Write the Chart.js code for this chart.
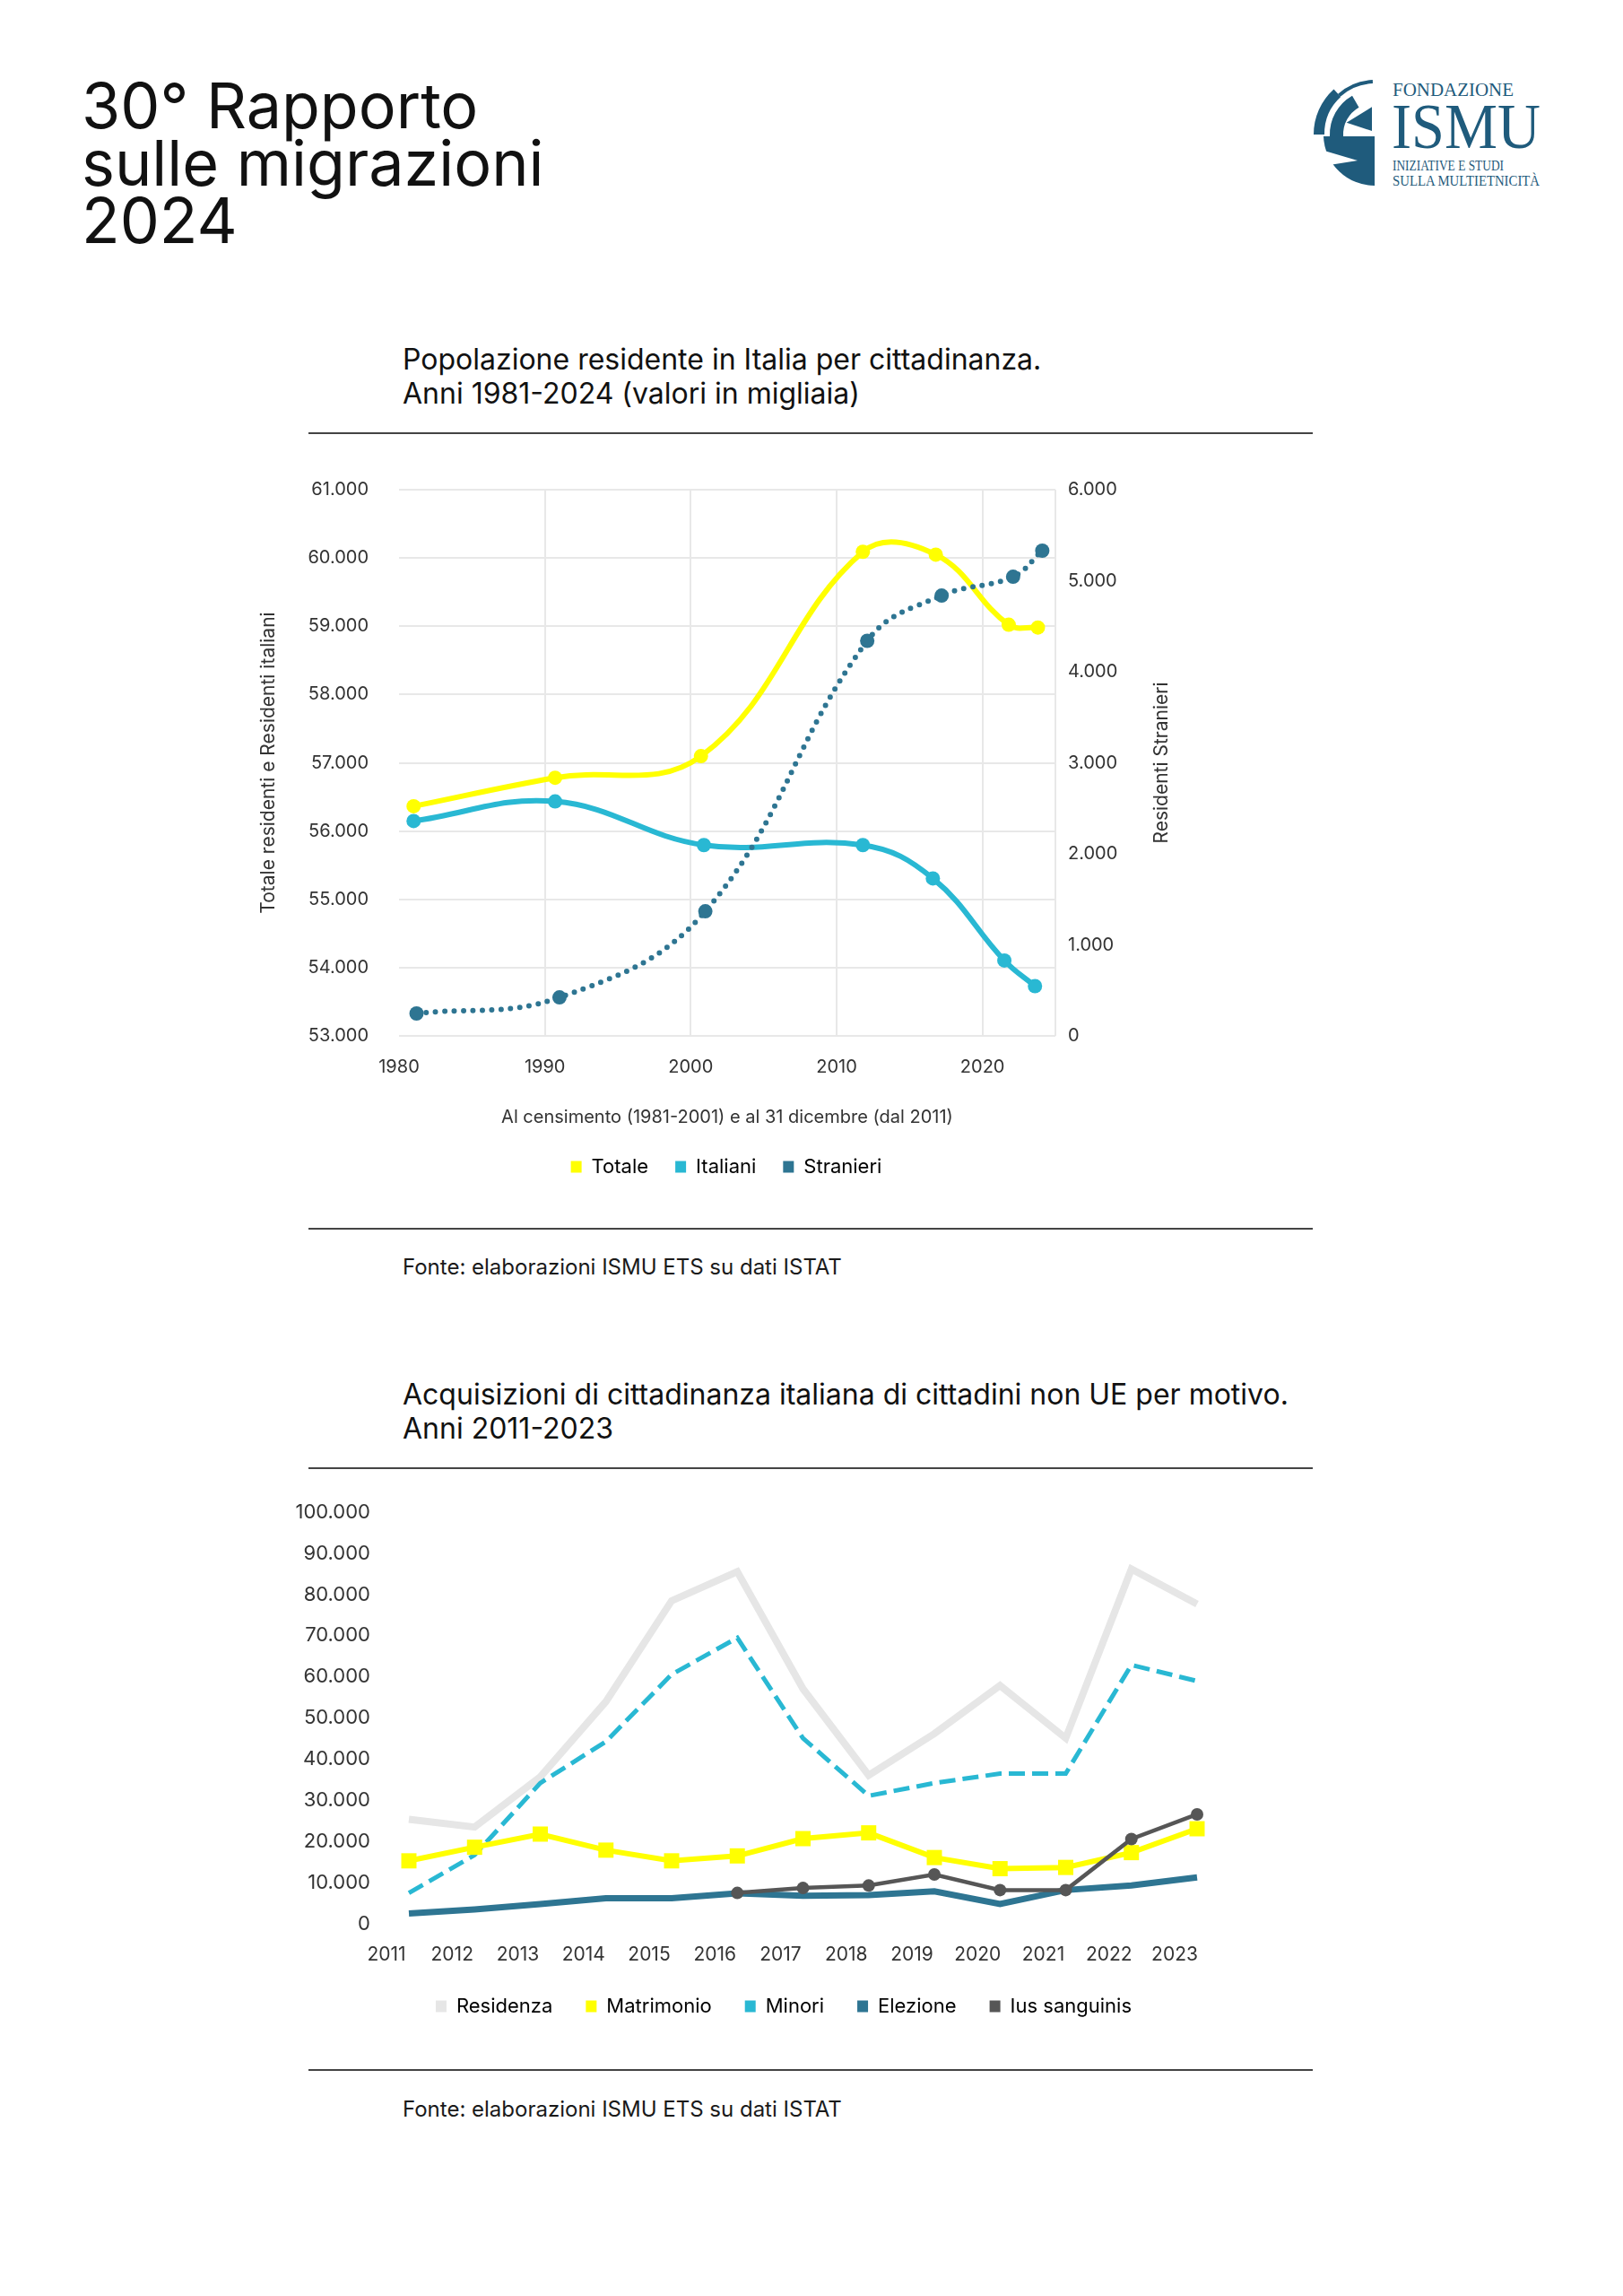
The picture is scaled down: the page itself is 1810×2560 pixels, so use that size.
<!DOCTYPE html>
<html lang="it">
<head>
<meta charset="utf-8">
<title>30° Rapporto sulle migrazioni 2024</title>
<script src="https://cdn.jsdelivr.net/npm/chart.js@4.4.1/dist/chart.umd.min.js"></script>
<style>
  html,body{margin:0;padding:0;background:#fff;}
  body{width:1810px;height:2560px;position:relative;overflow:hidden;font-family:Inter,'Noto Sans',sans-serif;color:#111;}
  .abs{position:absolute;}
  .titolo{left:91px;top:86px;font-size:70px;line-height:64px;font-weight:400;white-space:nowrap;}
  .ctitolo{left:449px;font-size:32px;line-height:38px;white-space:nowrap;}
  .riga{position:absolute;left:344px;width:1120px;height:0;border-top:2px solid #444;}
  .fonte{left:449px;font-size:24px;line-height:24px;color:#1a1a1a;white-space:nowrap;}
  canvas{position:absolute;}
</style>
</head>
<body>

<div class="abs titolo">30° Rapporto<br>sulle migrazioni<br>2024</div>

<svg class="abs" style="left:1440px;top:80px" width="300" height="140" viewBox="0 0 300 140">
  <g fill="#1f5b7c">
    <path d="M25,70 A68,68 0 0 1 47.5,19.5 L55.2,28 A56,56 0 0 0 37,70 Z"/>
    <path d="M58,72 A35,35 0 0 1 75.5,39.7 L68,26.7 A50,50 0 0 0 43,72 Z"/>
    <path d="M61.7,56.7 L90,39.3 L90,66 Z"/>
    <path d="M93,72 L36,72 A57,57 0 0 0 93,127 Z"/>
  </g>
  <path d="M53.5,26.2 A59,59 0 0 1 90.9,11.1" fill="none" stroke="#1f5b7c" stroke-width="4"/>
  <path d="M30,86 L74,99 L30,106 Z" fill="#fff"/>
  <g fill="#1f5b7c" font-family="'Liberation Serif','DejaVu Serif',serif">
    <text x="113" y="27" font-size="22" textLength="135" lengthAdjust="spacingAndGlyphs">FONDAZIONE</text>
    <text x="112" y="85" font-size="72" textLength="166" lengthAdjust="spacingAndGlyphs">ISMU</text>
    <text x="113" y="110" font-size="17" textLength="124" lengthAdjust="spacingAndGlyphs">INIZIATIVE E STUDI</text>
    <text x="113" y="127" font-size="17" textLength="164" lengthAdjust="spacingAndGlyphs">SULLA MULTIETNICITÀ</text>
  </g>
</svg>

<div class="abs ctitolo" style="top:382px">Popolazione residente in Italia per cittadinanza.<br>Anni 1981-2024 (valori in migliaia)</div>
<div class="riga" style="top:482px"></div>
<canvas id="grafico-popolazione" width="1100" height="822" style="left:260px;top:500px"></canvas>
<div class="riga" style="top:1369px"></div>
<div class="abs fonte" style="top:1401px">Fonte: elaborazioni ISMU ETS su dati ISTAT</div>

<div class="abs ctitolo" style="top:1536px">Acquisizioni di cittadinanza italiana di cittadini non UE per motivo.<br>Anni 2011-2023</div>
<div class="riga" style="top:1636px"></div>
<canvas id="grafico-acquisizioni" width="1148" height="628" style="left:300px;top:1630px"></canvas>
<div class="riga" style="top:2307px"></div>
<div class="abs fonte" style="top:2340px">Fonte: elaborazioni ISMU ETS su dati ISTAT</div>

<script>
const anniTotale = [1981, 1990.7, 2000.7, 2011.8, 2016.8, 2021.8, 2023.8];
const valoriTotale = [56364, 56781, 57097, 60090, 60049, 59022, 58981];
const anniItaliani = [1981, 1990.7, 2000.9, 2011.8, 2016.6, 2021.5, 2023.6];
const valoriItaliani = [56147, 56434, 55795, 55795, 55307, 54104, 53729];
const anniStranieri = [1981.2, 1991, 2001, 2012.1, 2017.2, 2022.1, 2024.1];
const valoriStranieri = [246, 423, 1369, 4340, 4837, 5044, 5330];
const decenni = [1980, 1990, 2000, 2010, 2020];

// Acquisizioni di cittadinanza per motivo
const anniAcq = ['2011','2012','2013','2014','2015','2016','2017','2018','2019','2020','2021','2022','2023'];
const residenza = [25400, 23500, 35700, 54000, 78500, 85600, 57100, 36100, 46200, 57900, 45100, 86200, 77700];
const matrimonio = [15300, 18600, 21800, 17900, 15300, 16500, 20700, 22100, 16100, 13400, 13700, 17300, 23100];
const minori = [7500, 16700, 34200, 44300, 60600, 69500, 45100, 31100, 34200, 36500, 36500, 62900, 59000];
const elezione = [2500, 3500, 4800, 6200, 6200, 7400, 6800, 7000, 7900, 4800, 8200, 9300, 11300];
const iusSanguinis = [null, null, null, null, null, 7500, 8700, 9300, 12000, 8200, 8200, 20600, 26600];

const GIALLO = '#ffff00', CIANO = '#29b8d3', TEAL = '#2e7592', GRIGIO = '#e6e6e6', SCURO = '#565656';
const TESTO = '#333';

Chart.defaults.font.family = "Inter, 'Noto Sans', sans-serif";
Chart.defaults.color = TESTO;

const fmt = v => String(v).replace(/\B(?=(\d{3})+(?!\d))/g, '.');
const punti = (xs, ys) => xs.map((x, i) => ({ x, y: ys[i] }));

const legendaSemplice = chart => chart.data.datasets.map((d, i) => ({
  text: d.label, fillStyle: d.borderColor, strokeStyle: d.borderColor,
  lineWidth: 0, hidden: false, datasetIndex: i
}));

// titolo asse destro, letto dal basso verso l'alto
const titoloDestro = {
  id: 'titoloDestro',
  afterDraw(chart, args, opts){
    const ctx = chart.ctx, a = chart.chartArea;
    ctx.save();
    ctx.translate(opts.x, (a.top + a.bottom) / 2);
    ctx.rotate(-Math.PI / 2);
    ctx.font = "21px Inter, 'Noto Sans', sans-serif";
    ctx.fillStyle = TESTO;
    ctx.textAlign = 'center';
    ctx.textBaseline = 'middle';
    ctx.fillText(opts.text, 0, 0);
    ctx.restore();
  }
};

new Chart(document.getElementById('grafico-popolazione'), {
  type: 'line',
  data: {
    datasets: [{
      label: 'Totale', data: punti(anniTotale, valoriTotale), yAxisID: 'y',
      borderColor: GIALLO, backgroundColor: GIALLO, pointBackgroundColor: GIALLO,
      borderWidth: 6, pointRadius: 8, pointBorderWidth: 0, tension: 0.4, order: 2
    },{
      label: 'Italiani', data: punti(anniItaliani, valoriItaliani), yAxisID: 'y',
      borderColor: CIANO, backgroundColor: CIANO, pointBackgroundColor: CIANO,
      borderWidth: 6, pointRadius: 8, pointBorderWidth: 0, tension: 0.4, order: 3
    },{
      label: 'Stranieri', data: punti(anniStranieri, valoriStranieri), yAxisID: 'y1',
      borderColor: TEAL, backgroundColor: TEAL, pointBackgroundColor: TEAL,
      borderWidth: 6, borderDash: [0, 10.5], borderCapStyle: 'round',
      pointRadius: 8, pointBorderWidth: 0, tension: 0.4, order: 1
    }]
  },
  options: {
    responsive: false, animation: false, devicePixelRatio: 1,
    layout: { padding: { top: 46, left: 0, right: 0, bottom: 0 } },
    datasets: { line: { clip: false } },
    plugins: {
      tooltip: { enabled: false },
      legend: {
        position: 'bottom',
        labels: {
          boxWidth: 12, boxHeight: 13, padding: 30, color: TESTO,
          font: { size: 22 }, generateLabels: legendaSemplice,
          sort: (a, b) => a.datasetIndex - b.datasetIndex
        }
      },
      titoloDestro: { text: 'Residenti Stranieri', x: 1036 }
    },
    scales: {
      x: {
        type: 'linear', min: 1980, max: 2025,
        afterFit: s => { s.height = 105; },
        ticks: {
          stepSize: 10, autoSkip: false, maxRotation: 0, padding: 23, font: { size: 20 },
          callback: v => decenni.includes(v) ? String(v) : ''
        },
        grid: {
          drawTicks: false, lineWidth: 2,
          color: c => (c.tick && c.tick.value === 1980) ? 'rgba(0,0,0,0)' : '#e8e8e8'
        },
        border: { display: false },
        title: { display: true, text: 'Al censimento (1981-2001) e al 31 dicembre (dal 2011)', font: { size: 20 }, padding: { top: 0, bottom: 2 } }
      },
      y: {
        position: 'left', min: 53000, max: 61000,
        afterFit: s => { s.width = 185; },
        ticks: { stepSize: 1000, padding: 34, font: { size: 20 }, callback: fmt },
        grid: { drawTicks: false, lineWidth: 2, color: '#e8e8e8' },
        border: { display: false },
        title: { display: true, text: 'Totale residenti e Residenti italiani', font: { size: 21 }, padding: { top: 27, bottom: 0 } }
      },
      y1: {
        position: 'right', min: 0, max: 6000,
        afterFit: s => { s.width = 183; },
        ticks: { stepSize: 1000, padding: 14, font: { size: 20 }, callback: fmt },
        grid: { display: false, drawTicks: false },
        border: { display: false }
      }
    }
  },
  plugins: [titoloDestro]
});

new Chart(document.getElementById('grafico-acquisizioni'), {
  type: 'line',
  data: {
    labels: anniAcq,
    datasets: [{
      label: 'Residenza', data: residenza, borderColor: GRIGIO, backgroundColor: GRIGIO,
      borderWidth: 8, pointRadius: 0, order: 5
    },{
      label: 'Matrimonio', data: matrimonio, borderColor: GIALLO, backgroundColor: GIALLO,
      pointBackgroundColor: GIALLO, borderWidth: 6, pointStyle: 'rect', pointRadius: 12,
      pointBorderWidth: 0, order: 2
    },{
      label: 'Minori', data: minori, borderColor: CIANO, backgroundColor: CIANO,
      borderWidth: 5, borderDash: [18, 8], pointRadius: 0, order: 4
    },{
      label: 'Elezione', data: elezione, borderColor: TEAL, backgroundColor: TEAL,
      borderWidth: 7, pointRadius: 0, order: 3
    },{
      label: 'Ius sanguinis', data: iusSanguinis, borderColor: SCURO, backgroundColor: SCURO,
      pointBackgroundColor: SCURO, borderWidth: 4.5, pointRadius: 7, pointBorderWidth: 0, order: 1
    }]
  },
  options: {
    responsive: false, animation: false, devicePixelRatio: 1,
    layout: { padding: 0 },
    datasets: { line: { clip: false, tension: 0 } },
    plugins: {
      tooltip: { enabled: false },
      legend: {
        position: 'bottom',
        labels: {
          boxWidth: 12, boxHeight: 13, padding: 37, color: TESTO,
          font: { size: 22 }, generateLabels: legendaSemplice,
          sort: (a, b) => a.datasetIndex - b.datasetIndex
        }
      }
    },
    scales: {
      x: {
        type: 'category',
        afterFit: s => { s.height = 44; },
        ticks: { autoSkip: false, maxRotation: 0, labelOffset: -25, padding: 22, font: { size: 21 } },
        grid: { display: false, drawTicks: false },
        border: { display: false }
      },
      y: {
        min: 0, max: 100000,
        afterFit: s => { s.width = 156; },
        ticks: { stepSize: 10000, padding: 43, font: { size: 22 }, callback: fmt },
        grid: { display: false, drawTicks: false },
        border: { display: false }
      },
      // spazio vuoto a destra, così la legenda resta centrata sulla pagina
      margine: {
        position: 'right', min: 0, max: 1,
        afterFit: s => { s.width = 113; },
        ticks: { display: false },
        grid: { display: false, drawTicks: false },
        border: { display: false }
      }
    }
  }
});
</script>
</body>
</html>
